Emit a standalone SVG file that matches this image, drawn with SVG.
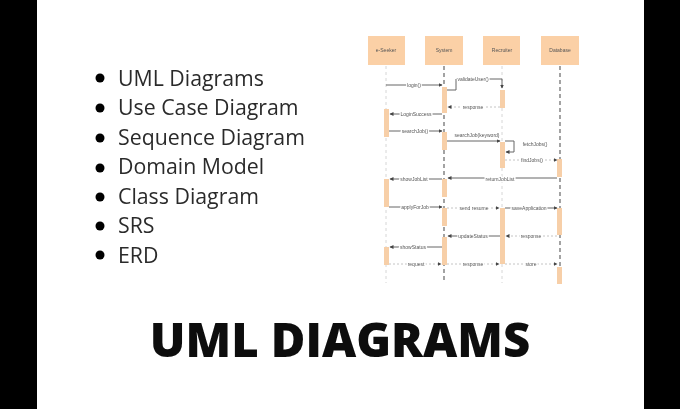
<svg xmlns="http://www.w3.org/2000/svg" width="680" height="409" viewBox="0 0 680 409">
<style>
.li{font:21.3px "Open Sans","Noto Sans",sans-serif;fill:#2b2b2b}
.t{font:800 47.2px "Open Sans","Noto Sans",sans-serif;fill:#0a0a0a;text-anchor:middle}
.box{fill:#fbd0a6}
.act{fill:#f7cfa8}
.hd{font:5px "Liberation Sans",sans-serif;fill:#555;text-anchor:middle}
.lb{font:5px "Liberation Sans",sans-serif;fill:#555;text-anchor:middle;stroke:#fff;stroke-width:2.5px;paint-order:stroke}
.ll{stroke:#666;stroke-width:1.2;stroke-dasharray:4 3;fill:none}
.l2{stroke:#d6d6d6;stroke-width:1;stroke-dasharray:3 3;fill:none}
.m{stroke:#666;stroke-width:1;fill:none;marker-end:url(#a)}
.d{stroke:#b5b5b5;stroke-width:.8;stroke-dasharray:2 2;fill:none;marker-end:url(#a)}
</style>
<defs>
<marker id="a" markerWidth="5" markerHeight="4" refX="3.5" refY="2" orient="auto" markerUnits="userSpaceOnUse"><path d="M0 0L4 2L0 4z" fill="#444"/></marker>
<filter id="b" x="-5%" y="-5%" width="110%" height="110%"><feGaussianBlur stdDeviation="0.5"/></filter>
<filter id="c" x="-5%" y="-5%" width="110%" height="110%"><feGaussianBlur stdDeviation="0.3"/></filter>
</defs>
<rect width="680" height="409" fill="#fff"/>
<rect width="37" height="409" fill="#000"/>
<rect x="644" width="36" height="409" fill="#000"/>
<g id="list" filter="url(#c)">
<circle cx="100" cy="78" r="4.5"/><text class="li" x="118" y="86">UML Diagrams</text>
<circle cx="100" cy="108" r="4.5"/><text class="li" x="118" y="115">Use Case Diagram</text>
<circle cx="100" cy="138" r="4.5"/><text class="li" x="118" y="145">Sequence Diagram</text>
<circle cx="100" cy="168" r="4.5"/><text class="li" x="118" y="174">Domain Model</text>
<circle cx="100" cy="197" r="4.5"/><text class="li" x="118" y="204">Class Diagram</text>
<circle cx="100" cy="226" r="4.5"/><text class="li" x="118" y="233">SRS</text>
<circle cx="100" cy="255" r="4.5"/><text class="li" x="118" y="263">ERD</text>
</g>
<text id="title" class="t" x="340" y="357" filter="url(#c)">UML DIAGRAMS</text>
<g filter="url(#b)">
<g id="lifelines">
<path class="l2" d="M386 66V283"/><path class="ll" d="M444 66V283"/><path class="l2" d="M502 66V283"/><path class="ll" d="M560 66V283"/>
</g>
<g id="n1"><rect class="box" x="368" y="36" width="37" height="29"/><text class="hd" x="386" y="52">e-Seeker</text></g>
<g id="n2"><rect class="box" x="425" y="36" width="38" height="29"/><text class="hd" x="444" y="52">System</text></g>
<g id="n3"><rect class="box" x="483" y="36" width="37" height="29"/><text class="hd" x="502" y="52">Recruiter</text></g>
<g id="n4"><rect class="box" x="541" y="36" width="38" height="29"/><text class="hd" x="560" y="52">Database</text></g>
<g id="activations">
<rect class="act" x="442" y="87" width="5" height="26"/><rect class="act" x="500" y="90" width="5" height="18"/>
<rect class="act" x="384" y="109" width="5" height="28"/><rect class="act" x="442" y="132" width="5" height="18"/>
<rect class="act" x="500" y="142" width="5" height="26"/><rect class="act" x="557" y="159" width="5" height="18"/>
<rect class="act" x="384" y="179" width="5" height="28"/><rect class="act" x="442" y="179" width="5" height="18"/>
<rect class="act" x="442" y="208" width="5" height="18"/><rect class="act" x="500" y="208" width="5" height="56"/>
<rect class="act" x="557" y="208" width="5" height="27"/><rect class="act" x="442" y="237" width="5" height="28"/>
<rect class="act" x="384" y="247" width="5" height="18"/><rect class="act" x="557" y="267" width="5" height="17"/>
</g>
<g id="connectors">
<path class="m" d="M447 90H456V79H502V88"/><path class="m" d="M386 85H442"/>
<path class="d" d="M500 107H448"/><path class="m" d="M442 114H390"/>
<path class="m" d="M389 131H442"/><path class="m" d="M447 141H500"/>
<path class="m" d="M505 141H514V152H506"/><path class="d" d="M505 160H557"/>
<path class="m" d="M557 178H448"/><path class="m" d="M442 179H390"/>
<path class="m" d="M389 207H442"/><path class="d" d="M447 208H499"/>
<path class="m" d="M505 208H557"/><path class="d" d="M557 236H506"/>
<path class="m" d="M500 236H448"/><path class="m" d="M442 247H390"/>
<path class="d" d="M389 264H441"/><path class="d" d="M447 264H499"/><path class="d" d="M505 264H557"/>
</g>
<g id="labels">
<text class="lb" x="414" y="87">login()</text>
<text class="lb" x="473" y="81">validateUser()</text>
<text class="lb" x="473" y="109">response</text>
<text class="lb" x="416" y="116">LoginSuccess</text>
<text class="lb" x="415" y="133">searchJob()</text>
<text class="lb" x="477" y="137">searchJob(keyword)</text>
<text class="lb" x="535" y="146">fetchJobs()</text>
<text class="lb" x="532" y="162">findJobs()</text>
<text class="lb" x="500" y="181">returnJobList</text>
<text class="lb" x="414" y="181">showJobList</text>
<text class="lb" x="415" y="209">applyForJob</text>
<text class="lb" x="474" y="210">send resume</text>
<text class="lb" x="529" y="210">saveApplication</text>
<text class="lb" x="531" y="238">response</text>
<text class="lb" x="473" y="238">updateStatus</text>
<text class="lb" x="413" y="249">showStatus</text>
<text class="lb" x="416" y="266">request</text>
<text class="lb" x="473" y="266">response</text>
<text class="lb" x="531" y="266">store</text>
</g>
</g>
</svg>
